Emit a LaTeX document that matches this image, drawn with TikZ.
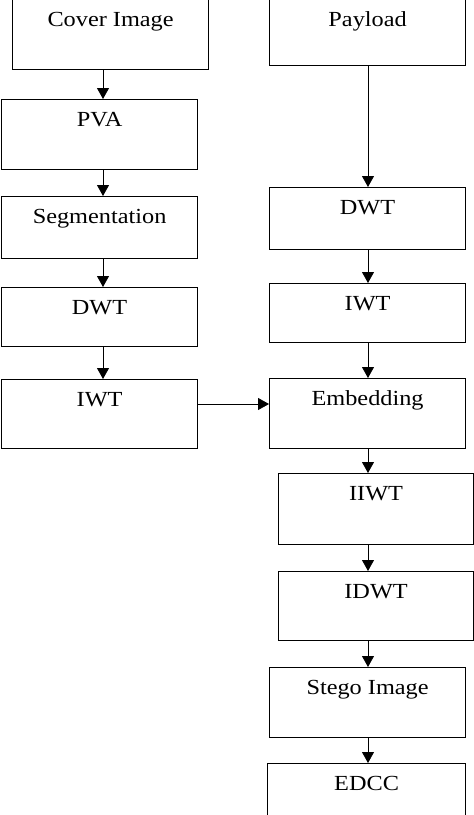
\documentclass[tikz,border=0pt]{standalone}
\usepackage{fontspec}
\newfontfamily\bxfont[FakeStretch=1.13]{Liberation Serif}
\usetikzlibrary{arrows.meta}
\begin{document}
\begin{tikzpicture}[x=1pt,y=-1pt,
  bx/.style={draw=black, line width=1.2pt, inner sep=0pt, anchor=north west,
    text height=27pt, font=\bxfont\fontsize{21.5}{24}\selectfont},
  arr/.style={draw=black, line width=0.8pt, -{Triangle[width=12pt,length=11pt]}}]
\useasboundingbox (0,0) rectangle (474,815);
\fill[white] (0,0) rectangle (474,815);
% left column
\node[bx, minimum width=196pt, text depth=43pt] (cover) at (12,-1) {Cover Image};
\node[bx, minimum width=196pt, text depth=43pt] (pva) at (1,99) {PVA};
\node[bx, minimum width=196pt, text depth=35pt] (seg) at (1,196) {Segmentation};
\node[bx, minimum width=196pt, text depth=32pt] (dwtL) at (1,287) {DWT};
\node[bx, minimum width=196pt, text depth=42pt] (iwtL) at (1,379) {IWT};
% right column
\node[bx, minimum width=196pt, text depth=39pt] (pay) at (269,-1) {Payload};
\node[bx, minimum width=196pt, text depth=35pt] (dwtR) at (269,187) {DWT};
\node[bx, minimum width=196pt, text depth=32pt] (iwtR) at (269,283) {IWT};
\node[bx, minimum width=196pt, text depth=43pt] (emb) at (269,378) {Embedding};
\node[bx, minimum width=195pt, text depth=44pt] (iiwt) at (278,473) {IIWT};
\node[bx, minimum width=195pt, text depth=42pt] (idwt) at (278,571) {IDWT};
\node[bx, minimum width=196pt, text depth=43pt] (stego) at (269,667) {Stego Image};
\node[bx, minimum width=198pt, text depth=33pt] (edcc) at (267,763) {EDCC};
% connectors
\coordinate (colL) at (103,0);
\coordinate (colR) at (368,0);
\coordinate (hy) at (0,404);
\draw[arr] (cover.south -| colL) -- (pva.north -| colL);
\draw[arr] (pva.south -| colL) -- (seg.north -| colL);
\draw[arr] (seg.south -| colL) -- (dwtL.north -| colL);
\draw[arr] (dwtL.south -| colL) -- (iwtL.north -| colL);
\draw[arr] (pay.south -| colR) -- (dwtR.north -| colR);
\draw[arr] (dwtR.south -| colR) -- (iwtR.north -| colR);
\draw[arr] (iwtR.south -| colR) -- (emb.north -| colR);
\draw[arr] (emb.south -| colR) -- (iiwt.north -| colR);
\draw[arr] (iiwt.south -| colR) -- (idwt.north -| colR);
\draw[arr] (idwt.south -| colR) -- (stego.north -| colR);
\draw[arr] (stego.south -| colR) -- (edcc.north -| colR);
\draw[arr] (iwtL.east |- hy) -- (emb.west |- hy);
\end{tikzpicture}
\end{document}
